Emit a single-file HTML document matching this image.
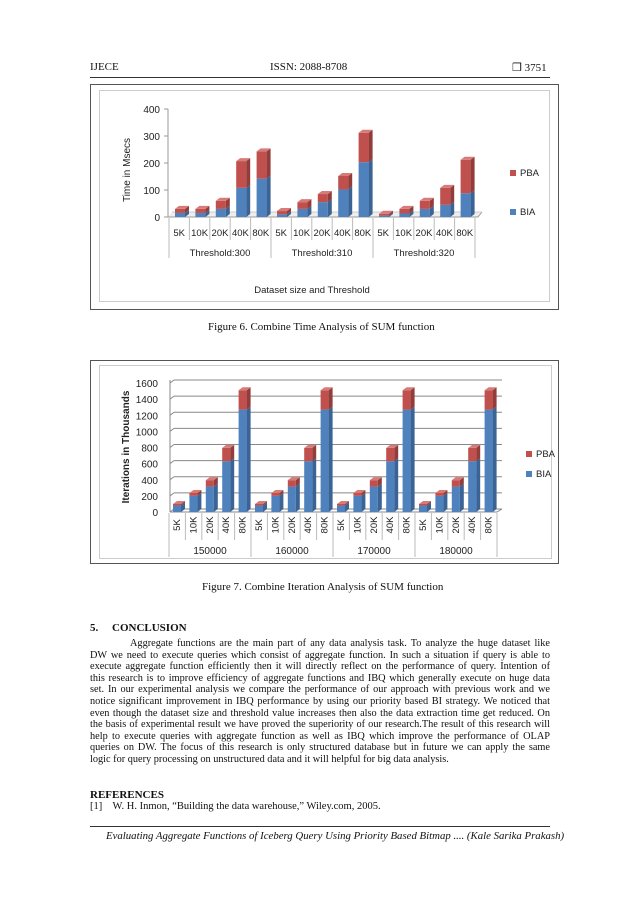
<!DOCTYPE html>
<html><head><meta charset="utf-8"><style>
body{margin:0;background:#fff;}
#p{position:relative;width:638px;height:902px;font-family:"Liberation Serif",serif;color:#111;overflow:hidden}
.a{position:absolute;white-space:nowrap}
.j{position:absolute;left:90px;width:460px;text-align:justify;text-align-last:justify;font-size:10.3px;white-space:nowrap}
svg{position:absolute;left:0;top:0}
svg text{font-family:"Liberation Sans",sans-serif;fill:#222}
</style></head><body><div id="p">
<div class="a" style="left:90px;top:61px;font-size:11px">IJECE</div>
<div class="a" style="left:270px;top:61px;font-size:11px">ISSN: 2088-8708</div>
<div class="a" style="left:512px;top:61px;font-size:11px">❒ 3751</div>
<div class="a" style="left:90px;top:77px;width:460px;border-top:1px solid #333"></div>
<svg id="s" width="638" height="902"></svg>
<div class="a" style="left:208px;top:321px;font-size:11px">Figure 6. Combine Time Analysis of SUM function</div>
<div class="a" style="left:202px;top:581px;font-size:11px">Figure 7. Combine Iteration Analysis of SUM function</div>
<div class="a" style="left:90px;top:622px;font-size:11px;font-weight:bold">5.</div>
<div class="a" style="left:112px;top:622px;font-size:11px;font-weight:bold">CONCLUSION</div>
<div class="j" style="top:638px;left:130px;width:420px">Aggregate functions are the main part of any data analysis task. To analyze the huge dataset like</div>
<div class="j" style="top:649.6px">DW we need to execute queries which consist of aggregate function. In such a situation if query is able to</div>
<div class="j" style="top:661.2px">execute aggregate function efficiently then it will directly reflect on the performance of query. Intention of</div>
<div class="j" style="top:672.8px">this research is to improve efficiency of aggregate functions and IBQ which generally execute on huge data</div>
<div class="j" style="top:684.4px">set. In our experimental analysis we compare the performance of our approach with previous work and we</div>
<div class="j" style="top:696px">notice significant improvement in IBQ performance by using our priority based BI strategy. We noticed that</div>
<div class="j" style="top:707.6px">even though the dataset size and threshold value increases then also the data extraction time get reduced. On</div>
<div class="j" style="top:719.2px">the basis of experimental result we have proved the superiority of our research.The result of this research will</div>
<div class="j" style="top:730.8px">help to execute queries with aggregate function as well as IBQ which improve the performance of OLAP</div>
<div class="j" style="top:742.4px">queries on DW. The focus of this research is only structured database but in future we can apply the same</div>
<div class="j" style="top:754px;text-align-last:left">logic for query processing on unstructured data and it will helpful for big data analysis.</div>
<div class="a" style="left:90px;top:789px;font-size:11px;font-weight:bold">REFERENCES</div>
<div class="a" style="left:90px;top:801px;font-size:10.5px">[1]&nbsp;&nbsp;&nbsp; W. H. Inmon, “Building the data warehouse,” Wiley.com, 2005.</div>
<div class="a" style="left:90px;top:826px;width:460px;border-top:1px solid #333"></div>
<div class="a" style="left:106px;top:830px;font-size:10.8px;font-style:italic">Evaluating Aggregate Functions of Iceberg Query Using Priority Based Bitmap .... (Kale Sarika Prakash)</div>
</div>
<script>
var s='';
function R(x,y,w,h,f,st){s+='<rect x="'+x+'" y="'+y+'" width="'+w+'" height="'+h+'" fill="'+(f||'none')+'" stroke="'+(st||'none')+'"/>';}
function L(x1,y1,x2,y2,c){s+='<line x1="'+x1+'" y1="'+y1+'" x2="'+x2+'" y2="'+y2+'" stroke="'+(c||'#999')+'" stroke-width="1"/>';}
function T(x,y,t,sz,a,extra){s+='<text x="'+x+'" y="'+y+'" font-size="'+sz+'" text-anchor="'+(a||'middle')+'" '+(extra||'')+'>'+t+'</text>';}
function P(pts,f){s+='<polygon points="'+pts+'" fill="'+f+'"/>';}
function bar(x,w,y0,hb,ht){var d=4,e=3;
 var yb=y0-hb, yt=y0-ht;
 R(x,yb,w,hb,'#4f81bd');P((x+w)+','+y0+' '+(x+w+d)+','+(y0-e)+' '+(x+w+d)+','+(yb-e)+' '+(x+w)+','+yb,'#3a6496');
 R(x,yt,w,ht-hb,'#c0504d');P((x+w)+','+yb+' '+(x+w+d)+','+(yb-e)+' '+(x+w+d)+','+(yt-e)+' '+(x+w)+','+yt,'#943c3a');
 P(x+','+yt+' '+(x+d)+','+(yt-e)+' '+(x+w+d)+','+(yt-e)+' '+(x+w)+','+yt,'#d77b79');}
R(90.5,84.5,468,225,'#fff','#555');R(99.5,90.5,450,211,'none','#ccc');
var y0=217,k=0.27;
[0,100,200,300,400].forEach(function(v){T(160,y0-v*k+4,v,10,'end');L(164,y0-v*k,168,y0-v*k);});
L(168,109,168,217);
P('168,217 172,212 482,212 478,217','#eee');L(168,217,478,217);L(478,217,482,212);L(172,212,482,212,'#ccc');
T(130,170,'Time in Msecs',10,'middle','transform="rotate(-90 130 170)"');
var c1=[[30,15],[30,15],[60,30],[207,108],[243,142],[22,10],[55,30],[85,55],[152,102],[312,203],[12,5],[30,13],[60,30],[108,45],[212,88]];
var lb=['5K','10K','20K','40K','80K'];
for(var i=0;i<15;i++){var cx=169+i*20.4;bar(cx+6,10,y0,c1[i][1]*k,c1[i][0]*k);T(cx+10.2,236,lb[i%5],9.5);L(cx,218,cx,i%5==0?258:240,'#bbb');}
L(475,218,475,258,'#bbb');
['Threshold:300','Threshold:310','Threshold:320'].forEach(function(t,g){T(169+g*102+51,256,t,9.5);});
T(312,293,'Dataset size and Threshold',9.5);
R(510,170,6,6,'#c0504d');T(520,176,'PBA',9.5,'start');R(510,209,6,6,'#4f81bd');T(520,215,'BIA',9.5,'start');
R(90.5,360.5,468,203,'#fff','#555');R(99.5,365.5,452,193,'none','#ccc');
var z=512,q=129/1600;
for(var v=0;v<=1600;v+=200){var yy=z-v*q;L(174,yy-3,502,yy-3,'#888');L(170,yy,174,yy-3,'#888');T(158,yy+4,v,10,'end');}
L(170,380,170,512,'#888');L(170,512,497,512,'#888');L(497,512,502,509,'#888');
T(129,447,'Iterations in Thousands',10,'middle','font-weight="bold" transform="rotate(-90 129 447)"');
var c2=[[100,80],[235,200],[395,315],[795,630],[1510,1270]];
for(var i=0;i<20;i++){var cx=169+i*16.4;var d=c2[i%5];bar(cx+4,8,z,d[1]*q,d[0]*q);
 T(cx+11,525,lb[i%5],9.5,'middle','transform="rotate(-90 '+(cx+11)+' 525)"');L(cx,513,cx,i%5==0?557:540,'#bbb');}
L(497,513,497,557,'#bbb');
['150000','160000','170000','180000'].forEach(function(t,g){T(169+g*82+41,554,t,10);});
R(526,451,6,6,'#c0504d');T(536,457,'PBA',9.5,'start');R(526,471,6,6,'#4f81bd');T(536,477,'BIA',9.5,'start');
document.getElementById('s').innerHTML=s;
</script>
</body></html>
